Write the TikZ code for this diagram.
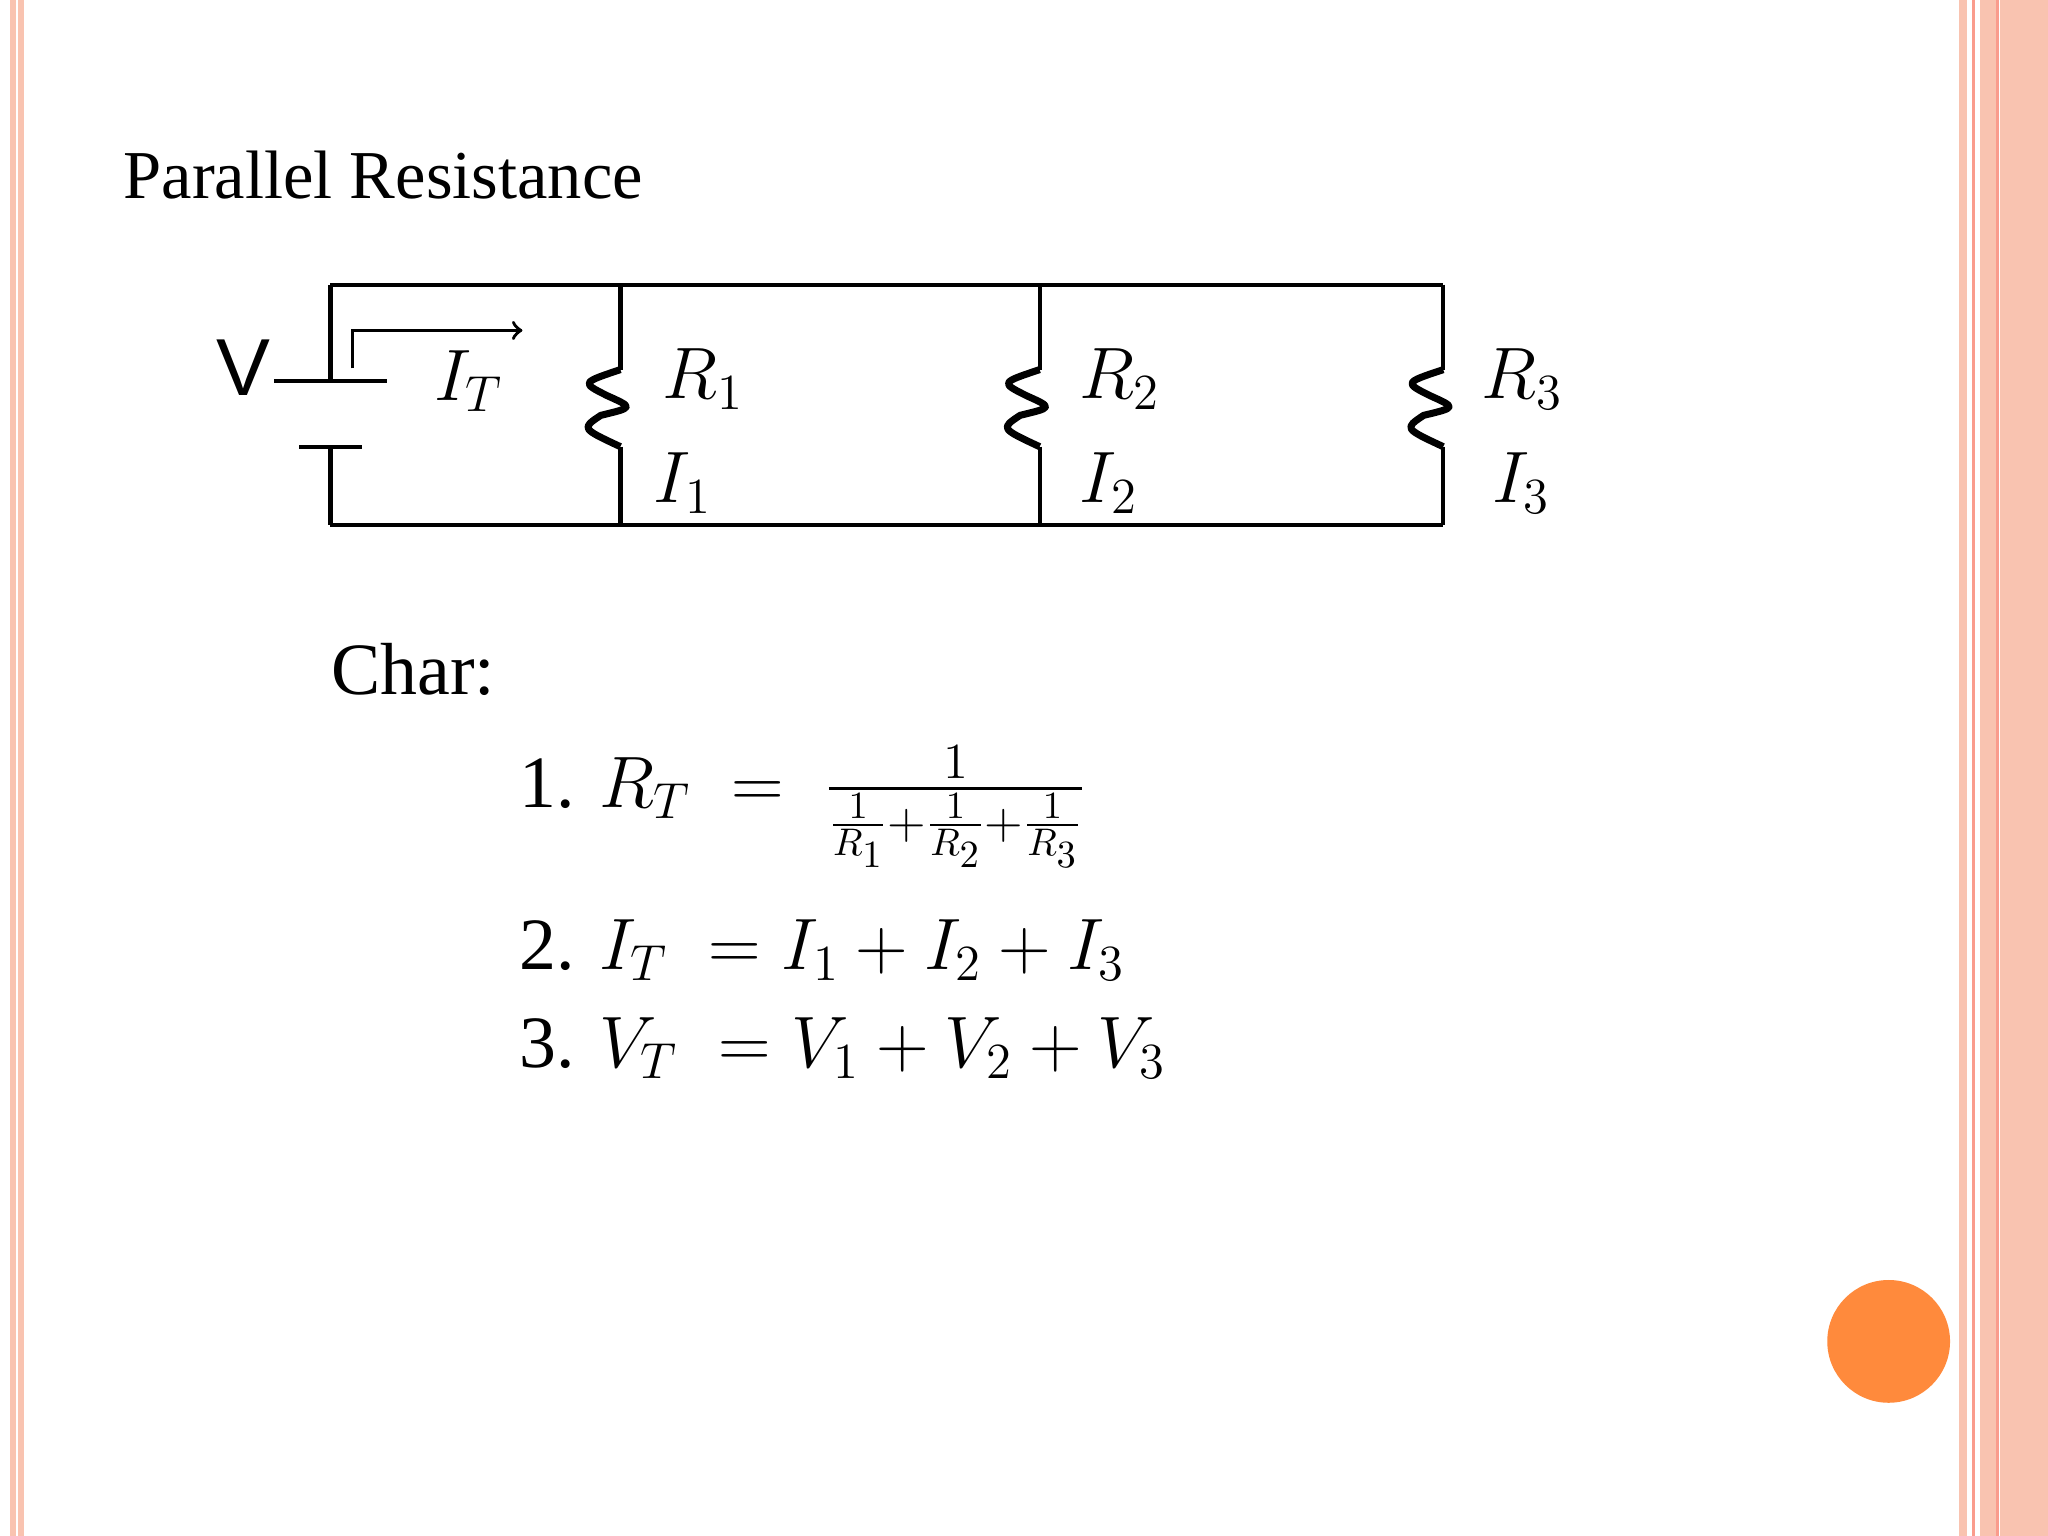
\documentclass[tikz,border=0pt]{standalone}
\usepackage{amsmath}
\usepackage{fontspec}
\setmainfont{Liberation Serif}
\newfontfamily\vfont{Liberation Sans}
\definecolor{bord}{HTML}{F9C3B0}
\definecolor{dot}{HTML}{FF8A3C}
\begin{document}
\begin{tikzpicture}[x=0.013061cm,y=-0.013061cm,
  wire/.style={line width=1.2pt,black},
  lbl/.style={inner sep=0pt,anchor=base west,font=\rmfamily\fontsize{21}{25}\selectfont}]
\useasboundingbox (0,0) rectangle (1568,1176);
\fill[white] (0,0) rectangle (1568,1176);
% borders
\fill[bord] (8,0) rectangle (12,1176);
\fill[bord] (14,0) rectangle (18,1176);
\fill[bord] (1500,0) rectangle (1506,1176);
\fill[bord] (1516,0) rectangle (1528,1176);
\fill[bord] (1531,0) rectangle (1568,1176);
\draw[bord!80!red,line width=0.8pt] (1511,0)--(1511,1176) (1529.5,0)--(1529.5,1176);
\fill[dot] (1446,1027) circle (47);
% title
\node[lbl] (title) at (94,152) {\fontsize{19.5}{24}\selectfont Parallel Resistance};
% circuit
\coordinate (tl) at (253,218); \coordinate (tr) at (1105,218);
\coordinate (bl) at (253,402); \coordinate (br) at (1105,402);
\draw[wire] (tl)--(tr) (bl)--(br);
\draw[wire] (tl)--(253,292) (253,342)--(bl);
\draw[wire] (210,292)--(296,292);
\draw[wire] (229,342)--(277,342);
\foreach \x/\n in {475/a,796/b,1105/c}{
  \draw[wire] (\x,218)--(\x,283) (\x,342)--(\x,402);
  \draw[line width=2pt,line join=round] (\x,283) .. controls (\x-30,293) .. (\x-10,303) .. controls (\x+10,312) .. (\x-15,318) .. controls (\x-30,328) .. (\x,342);
}
\draw[line width=1pt,->] (270,282)--(270,253)--(400,253);
\node[lbl] (V) at (165,303) {\vfont\fontsize{23}{27}\selectfont V};
\node[lbl] (IT) at (332,307) {$I_T$};
\node[lbl] (R1) at (507,305) {$R_1$};
\node[lbl] (I1) at (500,385) {$I_1$};
\node[lbl] (R2) at (826,305) {$R_2$};
\node[lbl] (I2) at (826,385) {$I_2$};
\node[lbl] (R3) at (1134,305) {$R_3$};
\node[lbl] (I3) at (1142,385) {$I_3$};
% text
\node[lbl] (char) at (253,532) {Char:};
\node[lbl] (e1) at (397,618) {1. $R_T\;=\;\frac{1}{\frac{1}{R_1}+\frac{1}{R_2}+\frac{1}{R_3}}$};
\node[lbl] (e2) at (397,742) {2. $I_T\;=I_1+I_2+I_3$};
\node[lbl] (e3) at (397,817) {3. $V_T\;=V_1+V_2+V_3$};
\end{tikzpicture}
\end{document}
